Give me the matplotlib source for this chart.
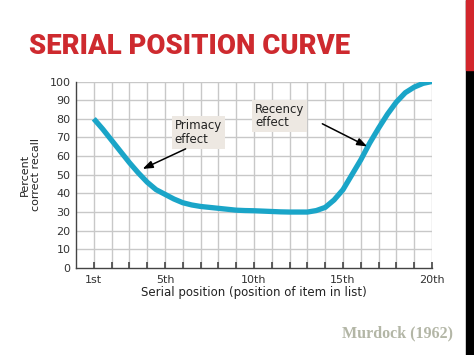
import numpy as np
import matplotlib.pyplot as plt
import matplotlib.patches as patches

# values at whole and half positions
positions = [1, 1.5, 2, 2.5, 3, 3.5, 4, 4.5, 5, 5.5, 6, 6.5, 7, 7.5, 8, 8.5, 9, 9.5, 10, 10.5,
             11, 11.5, 12, 12.5, 13, 13.5, 14, 14.5, 15, 15.5, 16, 16.5, 17, 17.5, 18, 18.5,
             19, 19.5, 20]
recall = [80, 74.5, 68.5, 62.5, 56.5, 51, 46, 42, 39.5, 37, 35, 33.8, 33, 32.5, 32, 31.5, 31,
          30.8, 30.7, 30.5, 30.3, 30.1, 30, 30, 30, 30.8, 32.5, 36.5, 42, 50, 58, 67, 75,
          82.5, 89, 94, 97, 99, 100]
xtick_pos = [1, 5, 10, 15, 20]
xtick_labels = ["1st", "5th", "10th", "15th", "20th"]
yticks = list(range(0, 101, 10))

W, H = 474, 355
fig = plt.figure(figsize=(W / 100, H / 100), dpi=100)
fig.patch.set_facecolor('white')

# right edge bar
fig.add_artist(patches.Rectangle((466 / W, 0), 8 / W, 1, transform=fig.transFigure,
                                 color='black', zorder=0))
fig.add_artist(patches.Rectangle((466 / W, 1 - 70 / H), 8 / W, 70 / H, transform=fig.transFigure,
                                 color='#D2262C', zorder=1))

fig.text(29 / W, 1 - 47 / H, "SERIAL POSITION CURVE", color='#CE2A2F', fontsize=19.8,
         fontweight=900, family='Roboto', va='center', ha='left')

ax = fig.add_axes([76 / W, 1 - 268 / H, (432 - 76) / W, (268 - 81.5) / H])
ax.set_xlim(0, 20)
ax.set_ylim(0, 100)

for x in range(1, 21):
    ax.axvline(x, color='#C8C8C8', lw=1.0, zorder=1)
for y in yticks[1:]:
    ax.axhline(y, color='#C8C8C8', lw=1.0, zorder=1)

ax.plot(positions, recall, color='#1AA5C8', lw=3.8, solid_capstyle='butt',
        solid_joinstyle='round', zorder=3)

for s in ['top', 'right']:
    ax.spines[s].set_visible(False)
for s in ['left', 'bottom']:
    ax.spines[s].set_color('#444444')
    ax.spines[s].set_linewidth(1.0)

ax.set_xticks(range(1, 21), minor=True)
ax.set_xticks(xtick_pos)
ax.set_xticklabels(xtick_labels)
ax.tick_params(axis='x', which='both', direction='in', length=4.5, width=1.2,
               color='#444444', labelsize=8, labelcolor='#333333', pad=5)
ax.set_yticks(yticks)
ax.tick_params(axis='y', length=0, labelsize=8, labelcolor='#333333', pad=4)

ax.set_xlabel("Serial position (position of item in list)", fontsize=8.5,
              color='#222222', labelpad=1)
ax.set_ylabel("Percent\ncorrect recall", fontsize=8, color='#222222', labelpad=6,
              linespacing=1.1)

box = dict(boxstyle='square,pad=0.25', facecolor='#EDE8E2', edgecolor='none')
ax.text(5.55, 80.0, "Primacy\neffect", fontsize=8.5, color='#222222', va='top', ha='left',
        bbox=box, linespacing=1.1, zorder=4)
ax.text(10.05, 88.5, "Recency\neffect", fontsize=8.5, color='#222222', va='top', ha='left',
        bbox=box, linespacing=1.0, zorder=4)

arrow = dict(arrowstyle='-|>,head_length=0.6,head_width=0.22', color='black', lw=1.1)
ax.annotate("", xy=(3.6, 52.5), xytext=(6.3, 64.5), arrowprops=arrow, zorder=5)
ax.annotate("", xy=(16.5, 64.5), xytext=(13.7, 78), arrowprops=arrow, zorder=5)

fig.text(453 / W, 1 - 333 / H, "Murdock (1962)", color='#B3B6A6', fontsize=11.5,
         fontweight='bold', family='Liberation Serif', ha='right', va='center')

fig.savefig('out.png', dpi=100)
